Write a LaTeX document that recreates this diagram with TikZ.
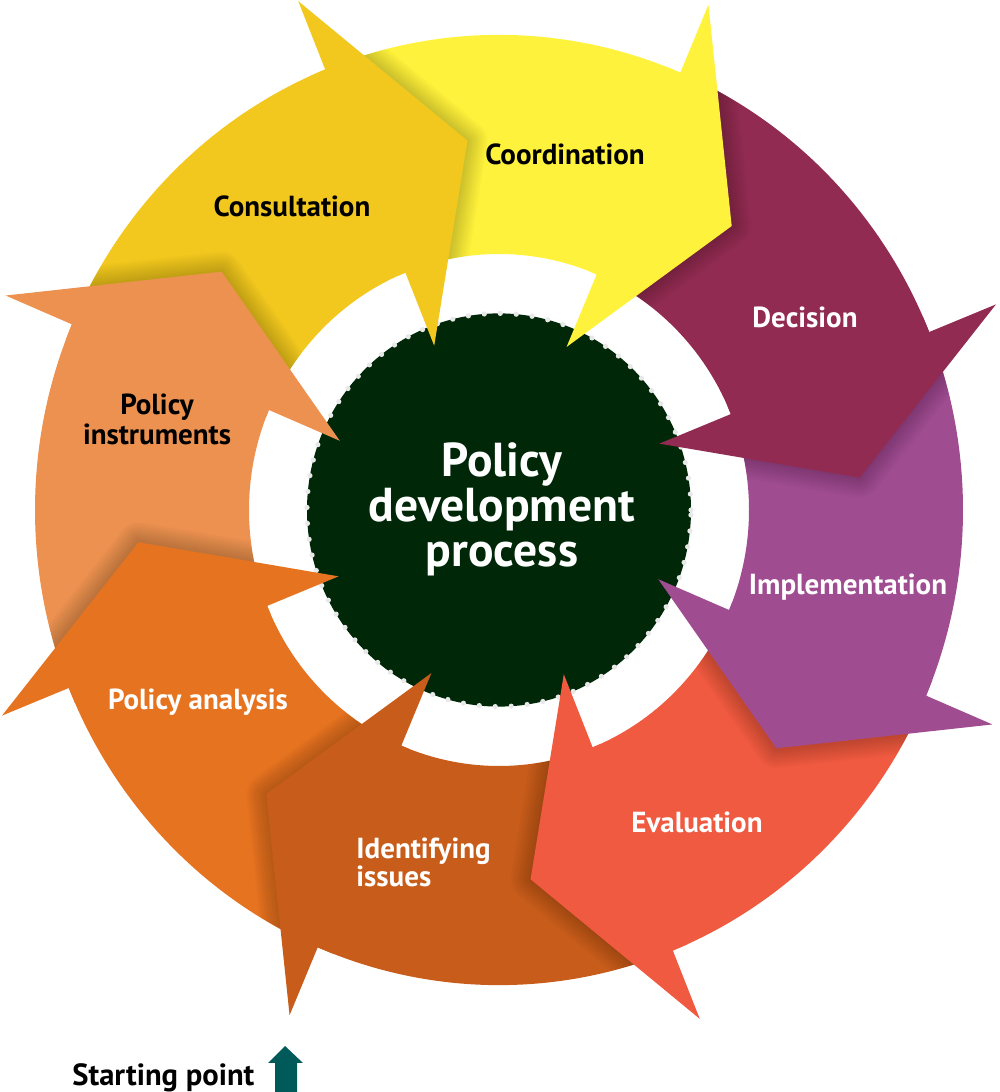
\documentclass[tikz,border=0pt]{standalone}
\usepackage{fontspec}
\setmainfont{PT Sans}
\definecolor{cConsult}{RGB}{242,200,30}
\definecolor{cCoord}{RGB}{255,242,60}
\definecolor{cDecis}{RGB}{146,43,82}
\definecolor{cImpl}{RGB}{160,76,145}
\definecolor{cEval}{RGB}{240,90,65}
\definecolor{cIdent}{RGB}{200,92,27}
\definecolor{cAnal}{RGB}{230,115,32}
\definecolor{cInstr}{RGB}{236,145,80}
\definecolor{cDark}{RGB}{0,40,8}
\definecolor{cTeal}{RGB}{0,90,90}
\begin{document}
\begin{tikzpicture}[x=0.5pt,y=0.5pt,
  lab/.style={font=\bfseries\fontsize{14.5}{15}\selectfont, anchor=base, inner sep=0pt},
  labw/.style={lab, text=white},
  labk/.style={lab, text=black}]
\useasboundingbox (0,0) rectangle (1000,1092);
\def\R{464}
\def\r{250}
\begin{scope}[shift={(499,582)}, yscale=1.024]
  % bands
  \foreach \b/\c in {112/cConsult, 67/cCoord, 22/cDecis, -23/cImpl, -68/cEval, -113/cIdent, -158/cAnal, 157/cInstr}{
    \fill[\c] (\b+45:\R) arc[start angle=\b+45, end angle=\b-3, radius=\R] -- (\b-3:\r) arc[start angle=\b-3, end angle=\b+45, radius=\r] -- cycle;
  }
  % centre disc
  \fill[cDark] (0,0) circle[radius=192];
  \draw[white!82!gray, line width=2.6pt, dash pattern=on 0pt off 8pt, line cap=round] (0,0) circle[radius=192];
  % heads with soft shadows
  \foreach \b/\c in {112/cConsult, 67/cCoord, 22/cDecis, -23/cImpl, -68/cEval, -113/cIdent, -158/cAnal, 157/cInstr}{
    \begin{scope}
      \clip (\b:\R) arc[start angle=\b, end angle=\b-45, radius=\R] -- (\b-45:\r) arc[start angle=\b-45, end angle=\b, radius=\r] -- cycle;
      \foreach \w in {2,4,...,20}{
        \draw[black, opacity=0.018, line width=\w pt, line join=round] (\b:536) -- (\b-17:362) -- (\b:173);
      }
    \end{scope}
    \fill[\c] (\b+2:\R) -- (\b:\R) -- (\b:536) -- (\b-17:362) -- (\b:173) -- (\b:\r) -- (\b+2:\r) -- cycle;
  }
\end{scope}
% labels
\node[labk] (consult) at (292,875) {Consultation};
\node[labk] (coord) at (565,927) {Coordination};
\node[labw] (decis) at (805,764) {Decision};
\node[labw] (impl) at (848,497) {Implementation};
\node[labw] (eval) at (697,259) {Evaluation};
\node[labw, anchor=base west, align=left] (ident) at (356,205) {Identifying\\[-0.6pt]issues};
\node[labw] (anal) at (198,382) {Policy analysis};
\node[labk, align=center] (instr) at (157,647) {Policy\\instruments};
\node[anchor=base, align=center, text=white, inner sep=0pt,
      font=\bfseries\fontsize{23.8}{22.6}\selectfont] (centre) at (502,525) {Policy\\development\\process};
\node[labk, anchor=base west, font=\bfseries\fontsize{15.3}{16}\selectfont] (start) at (72,6) {Starting point};
\fill[cTeal] (275,0) -- (275,29) -- (268,29) -- (285,46) -- (303,29) -- (297,29) -- (297,0) -- cycle;
\end{tikzpicture}
\end{document}
